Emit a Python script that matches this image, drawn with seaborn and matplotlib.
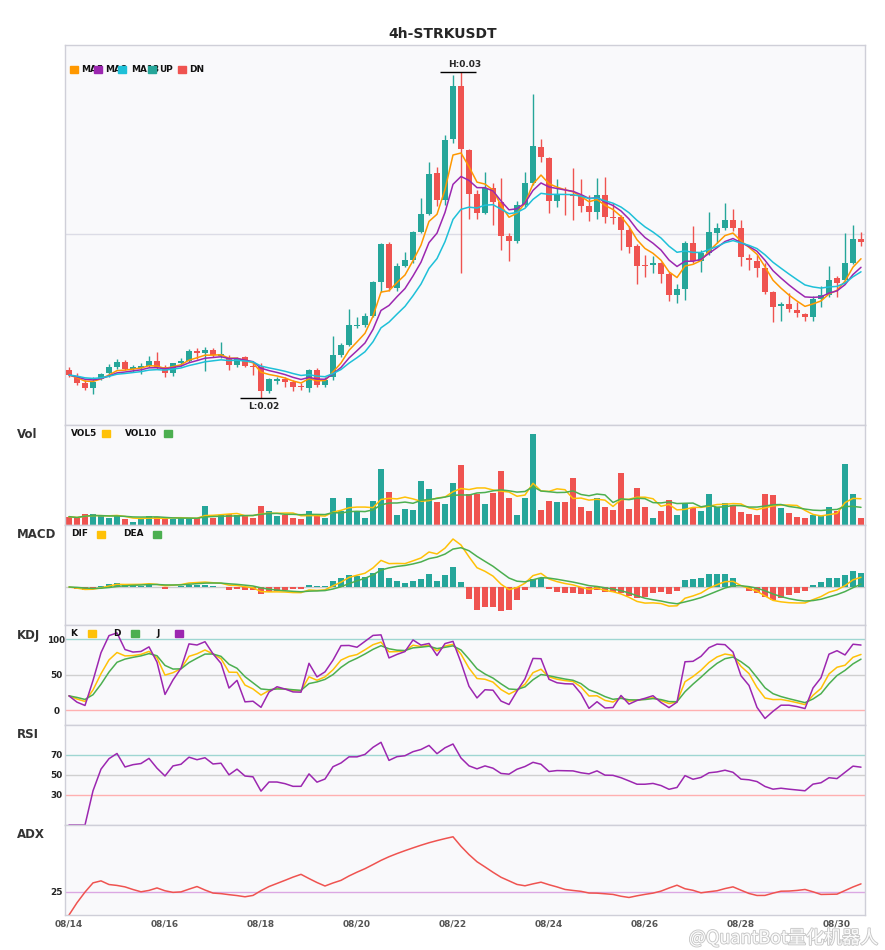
import numpy as np
import pandas as pd
import matplotlib
matplotlib.use("Agg")
import matplotlib.pyplot as plt
import matplotlib.patheffects as pe
from matplotlib.patches import Rectangle
import seaborn as sns

# --- DATA (4h candles, STRKUSDT) ---
SYMBOL = "STRKUSDT"
INTERVAL = "4h"
START = "2024-08-14 00:00"

open_ = [0.02092, 0.02074, 0.02053, 0.02038, 0.02065, 0.02083, 0.02101, 0.02116, 0.02095, 0.02098,
         0.02104, 0.02119, 0.02101, 0.02083, 0.02113, 0.02119, 0.02149, 0.02143, 0.02152, 0.02134,
         0.02128, 0.02107, 0.02131, 0.02104, 0.02101, 0.02029, 0.02059, 0.02065, 0.02056, 0.02044,
         0.02038, 0.02092, 0.02047, 0.02071, 0.02137, 0.02167, 0.02224, 0.02227, 0.02254, 0.02356,
         0.02470, 0.02338, 0.02404, 0.02422, 0.02506, 0.02560, 0.02683, 0.02602, 0.02785, 0.02944,
         0.02752, 0.02620, 0.02563, 0.02638, 0.02596, 0.02494, 0.02479, 0.02587, 0.02653, 0.02761,
         0.02728, 0.02599, 0.02620, 0.02617, 0.02617, 0.02584, 0.02566, 0.02617, 0.02551, 0.02551,
         0.02512, 0.02464, 0.02407, 0.02407, 0.02413, 0.02380, 0.02317, 0.02335, 0.02473, 0.02419,
         0.02443, 0.02503, 0.02518, 0.02542, 0.02518, 0.02428, 0.02419, 0.02398, 0.02326, 0.02284,
         0.02290, 0.02272, 0.02260, 0.02251, 0.02305, 0.02317, 0.02368, 0.02362, 0.02413, 0.02485]
high = [0.02101, 0.02083, 0.02062, 0.02071, 0.02083, 0.02110, 0.02125, 0.02122, 0.02107, 0.02113,
        0.02134, 0.02146, 0.02107, 0.02113, 0.02128, 0.02155, 0.02158, 0.02161, 0.02158, 0.02176,
        0.02137, 0.02131, 0.02134, 0.02113, 0.02113, 0.02068, 0.02071, 0.02071, 0.02062, 0.02053,
        0.02095, 0.02098, 0.02071, 0.02194, 0.02173, 0.02275, 0.02251, 0.02263, 0.02359, 0.02473,
        0.02476, 0.02413, 0.02446, 0.02509, 0.02608, 0.02716, 0.02701, 0.02797, 0.02977, 0.02986,
        0.02755, 0.02632, 0.02686, 0.02653, 0.02668, 0.02503, 0.02599, 0.02686, 0.02920, 0.02785,
        0.02731, 0.02665, 0.02641, 0.02698, 0.02665, 0.02617, 0.02668, 0.02671, 0.02593, 0.02557,
        0.02524, 0.02470, 0.02437, 0.02434, 0.02416, 0.02386, 0.02350, 0.02479, 0.02524, 0.02452,
        0.02566, 0.02533, 0.02593, 0.02575, 0.02542, 0.02440, 0.02437, 0.02413, 0.02329, 0.02296,
        0.02323, 0.02296, 0.02263, 0.02314, 0.02344, 0.02404, 0.02374, 0.02503, 0.02527, 0.02506]
low = [0.02071, 0.02047, 0.02032, 0.02020, 0.02062, 0.02071, 0.02095, 0.02092, 0.02086, 0.02080,
       0.02101, 0.02095, 0.02071, 0.02074, 0.02104, 0.02116, 0.02125, 0.02089, 0.02131, 0.02128,
       0.02092, 0.02101, 0.02101, 0.02077, 0.02008, 0.02023, 0.02050, 0.02041, 0.02029, 0.02032,
       0.02026, 0.02041, 0.02041, 0.02062, 0.02131, 0.02164, 0.02218, 0.02221, 0.02251, 0.02326,
       0.02329, 0.02329, 0.02401, 0.02413, 0.02503, 0.02557, 0.02584, 0.02587, 0.02773, 0.02383,
       0.02545, 0.02545, 0.02560, 0.02527, 0.02452, 0.02419, 0.02473, 0.02581, 0.02647, 0.02716,
       0.02563, 0.02581, 0.02557, 0.02542, 0.02566, 0.02539, 0.02545, 0.02533, 0.02530, 0.02452,
       0.02443, 0.02350, 0.02371, 0.02383, 0.02353, 0.02299, 0.02293, 0.02302, 0.02413, 0.02386,
       0.02437, 0.02473, 0.02512, 0.02509, 0.02404, 0.02392, 0.02371, 0.02320, 0.02236, 0.02239,
       0.02266, 0.02251, 0.02239, 0.02239, 0.02281, 0.02311, 0.02311, 0.02359, 0.02409, 0.02463]
close = [0.02077, 0.02053, 0.02038, 0.02056, 0.02080, 0.02101, 0.02116, 0.02095, 0.02101, 0.02104,
         0.02119, 0.02101, 0.02083, 0.02113, 0.02119, 0.02149, 0.02143, 0.02152, 0.02137, 0.02140,
         0.02107, 0.02128, 0.02104, 0.02101, 0.02029, 0.02065, 0.02065, 0.02056, 0.02041, 0.02041,
         0.02092, 0.02047, 0.02062, 0.02137, 0.02167, 0.02227, 0.02227, 0.02254, 0.02356, 0.02470,
         0.02338, 0.02404, 0.02422, 0.02506, 0.02560, 0.02680, 0.02602, 0.02782, 0.02944, 0.02755,
         0.02620, 0.02563, 0.02638, 0.02596, 0.02494, 0.02479, 0.02587, 0.02653, 0.02764, 0.02731,
         0.02599, 0.02620, 0.02617, 0.02614, 0.02584, 0.02566, 0.02617, 0.02551, 0.02548, 0.02512,
         0.02461, 0.02404, 0.02404, 0.02413, 0.02380, 0.02317, 0.02335, 0.02473, 0.02419, 0.02443,
         0.02506, 0.02518, 0.02542, 0.02518, 0.02431, 0.02422, 0.02398, 0.02326, 0.02281, 0.02290,
         0.02275, 0.02263, 0.02251, 0.02305, 0.02317, 0.02362, 0.02353, 0.02413, 0.02485, 0.02476]
volume = [8.3, 6.7, 11.3, 11.3, 9.0, 7.3, 8.7, 6.3, 3.3, 6.7,
          9.3, 8.0, 6.0, 6.0, 7.0, 7.3, 7.3, 19.3, 7.3, 10.0,
          10.7, 10.0, 8.7, 7.3, 19.3, 13.7, 9.3, 10.0, 7.3, 5.7,
          14.3, 9.7, 7.3, 27.3, 14.3, 27.3, 13.0, 7.3, 24.3, 55.3,
          32.7, 10.3, 16.3, 15.3, 43.3, 36.3, 23.0, 21.3, 41.7, 59.3,
          31.0, 31.0, 21.3, 31.7, 53.3, 26.7, 10.0, 27.3, 90.3, 15.3,
          24.3, 22.7, 23.0, 46.3, 17.7, 14.0, 27.3, 18.3, 15.0, 51.7,
          16.0, 37.3, 18.3, 7.3, 14.3, 25.3, 10.0, 21.0, 17.0, 14.3,
          31.3, 18.3, 22.3, 20.3, 12.7, 11.3, 10.0, 31.3, 29.7, 16.7,
          11.7, 7.7, 7.0, 9.7, 9.0, 18.3, 13.7, 60.7, 30.7, 7.3]

# --- STYLE ---
UP_C = "#26a69a"
DN_C = "#ef5350"
BG = "#f9f9fb"
SPINE = "#cfcfd8"
W, H = 885, 950

sns.set_style("white")
plt.rcParams["font.family"] = ["DejaVu Sans"]

df = pd.DataFrame({"open": open_, "high": high, "low": low, "close": close, "vol": volume})
df["time"] = pd.date_range(START, periods=len(df), freq="4h")
x = np.arange(len(df))


def ema(s, n):
    return s.ewm(span=n, adjust=False).mean()


def wilder(s, n):
    return s.ewm(alpha=1 / n, adjust=False).mean()


# --- INDICATORS ---
ma5 = ema(df["close"], 5)
ma8 = ema(df["close"], 8)
ma13 = ema(df["close"], 13)
vol5 = df["vol"].rolling(5, min_periods=1).mean()
vol10 = df["vol"].rolling(10, min_periods=1).mean()

dif = ema(df["close"], 5) - ema(df["close"], 13)
dea = ema(dif, 5)
hist = 2 * (dif - dea)

llv = df["low"].rolling(9, min_periods=1).min()
hhv = df["high"].rolling(9, min_periods=1).max()
rsv = (df["close"] - llv) / (hhv - llv) * 100
k = ema(rsv, 3)
d = ema(k, 3)
j = 3 * k - 2 * d

delta = df["close"].diff().fillna(0)
avg_g = wilder(delta.clip(lower=0), 14)
avg_l = wilder(-delta.clip(upper=0), 14)
rsi = (100 * avg_g / (avg_g + avg_l)).fillna(0)

prev_c = df["close"].shift()
tr = pd.concat([df["high"] - df["low"], (df["high"] - prev_c).abs(), (df["low"] - prev_c).abs()], axis=1).max(axis=1)
up_move = df["high"].diff()
dn_move = -df["low"].diff()
pdm = pd.Series(np.where((up_move > dn_move) & (up_move > 0), up_move, 0.0))
mdm = pd.Series(np.where((dn_move > up_move) & (dn_move > 0), dn_move, 0.0))
atr = ema(tr, 14)
pdi = 100 * ema(pdm, 14) / atr
mdi = 100 * ema(mdm, 14) / atr
dx = (100 * (pdi - mdi).abs() / (pdi + mdi)).fillna(0)
adx = ema(dx, 14)

# --- FIGURE ---
fig = plt.figure(figsize=(W / 100, H / 100), dpi=100)
gs = fig.add_gridspec(6, 1, height_ratios=[380, 100, 100, 100, 100, 90],
                      left=65 / W, right=865 / W, top=1 - 45 / H, bottom=1 - 915 / H, hspace=0)
axes = [fig.add_subplot(gs[0])]
for r in range(1, 6):
    axes.append(fig.add_subplot(gs[r], sharex=axes[0]))
ax_k, ax_v, ax_m, ax_kdj, ax_rsi, ax_adx = axes

for ax in axes:
    ax.set_facecolor(BG)
    for s in ax.spines.values():
        s.set_color(SPINE)
        s.set_linewidth(1)
    ax.tick_params(axis="both", length=0)
    ax.tick_params(axis="x", labelbottom=False)
ax_k.set_xlim(-0.5, len(df) - 0.5)

colors = np.where(df["close"] >= df["open"], UP_C, DN_C)

# candles
ax_k.axhline(0.025, color="#dcdce6", lw=1, zorder=0)
ax_k.vlines(x, df["low"], df["high"], color=colors, lw=1, zorder=2)
body_lo = np.minimum(df["open"], df["close"])
body_h = np.maximum((df["close"] - df["open"]).abs(), 0.00003)
ax_k.bar(x, body_h, bottom=body_lo, width=0.7, color=colors, linewidth=0, zorder=3)
sns.lineplot(x=x, y=ma5, ax=ax_k, color="#ff9800", lw=1.1, zorder=4)
sns.lineplot(x=x, y=ma8, ax=ax_k, color="#9c27b0", lw=1.1, zorder=4)
sns.lineplot(x=x, y=ma13, ax=ax_k, color="#1ec0d8", lw=1.1, zorder=4)
ax_k.set_ylim(0.01927, 0.03067)
ax_k.set_yticks([])

hi_i = int(df["high"].idxmax())
lo_i = int(df["low"].idxmin())
hi_v = df["high"].max()
lo_v = df["low"].min()
ax_k.hlines(hi_v, hi_i - 2.6, hi_i + 1.9, color="black", lw=1, zorder=5)
ax_k.annotate(f"H:{hi_v:.2f}", (hi_i + 0.4, hi_v), xytext=(0, 2.5), textcoords="offset points",
              ha="center", va="bottom", fontsize=6.5, fontweight="bold", zorder=6)
ax_k.hlines(lo_v, lo_i - 2.6, lo_i + 1.9, color="black", lw=1, zorder=5)
ax_k.annotate(f"L:{lo_v:.2f}", (lo_i + 0.4, lo_v), xytext=(0, -3), textcoords="offset points",
              ha="center", va="top", fontsize=6.5, fontweight="bold", zorder=6)

# volume
ax_v.bar(x, df["vol"], width=0.7, color=colors, linewidth=0)
sns.lineplot(x=x, y=vol5, ax=ax_v, color="#ffc107", lw=1.1)
sns.lineplot(x=x, y=vol10, ax=ax_v, color="#4caf50", lw=1.1)
ax_v.set_ylim(0, 99.5)
ax_v.set_yticks([])

# macd
ax_m.axhline(0, color="#cccccc", lw=1, zorder=0)
ax_m.bar(x, hist, width=0.7, color=np.where(hist >= 0, UP_C, DN_C), linewidth=0)
sns.lineplot(x=x, y=dif, ax=ax_m, color="#ffc107", lw=1.1)
sns.lineplot(x=x, y=dea, ax=ax_m, color="#4caf50", lw=1.1)
top_m = dif.max() * 62 / 48
ax_m.set_ylim(-top_m * 38 / 62, top_m)
ax_m.set_yticks([])

# kdj
ax_kdj.axhline(100, color="#9fd6d2", lw=1, zorder=0)
ax_kdj.axhline(50, color="#d0d0d0", lw=1, zorder=0)
ax_kdj.axhline(0, color="#ffb0b0", lw=1, zorder=0)
sns.lineplot(x=x, y=k, ax=ax_kdj, color="#ffc107", lw=1.1)
sns.lineplot(x=x, y=d, ax=ax_kdj, color="#4caf50", lw=1.1)
sns.lineplot(x=x, y=j, ax=ax_kdj, color="#9c27b0", lw=1.1)
ax_kdj.set_ylim(-21, 119.7)
ax_kdj.set_yticks([0, 50, 100])

# rsi
ax_rsi.axhline(70, color="#9fd6d2", lw=1, zorder=0)
ax_rsi.axhline(50, color="#d0d0d0", lw=1, zorder=0)
ax_rsi.axhline(30, color="#ffb0b0", lw=1, zorder=0)
sns.lineplot(x=x, y=rsi, ax=ax_rsi, color="#9c27b0", lw=1.1)
ax_rsi.set_ylim(0, 100)
ax_rsi.set_yticks([30, 50, 70])

# adx
ax_adx.axhline(25, color="#dba8e3", lw=1, zorder=0)
sns.lineplot(x=x, y=adx, ax=ax_adx, color="#ef5350", lw=1.1)
ax_adx.set_ylim(0, 97.8)
ax_adx.set_yticks([25])

for ax in (ax_kdj, ax_rsi, ax_adx):
    ax.tick_params(axis="y", pad=6.2, labelsize=6.4)
    for lab in ax.get_yticklabels():
        lab.set_ha("center")
        lab.set_fontweight("bold")
        lab.set_color("#222222")

for ax in axes:
    ax.set_ylabel("")
    ax.set_xlabel("")

ax_adx.set_xticks(x[::12])
ax_adx.set_xticklabels(df["time"].dt.strftime("%m/%d").iloc[::12], fontsize=6.5,
                       fontweight="bold", color="#555555")
ax_adx.tick_params(axis="x", labelbottom=True, pad=3)


# --- LEGENDS AND LABELS (figure pixel positions) ---
def ftext(px, py, s, **kw):
    fig.text(px / W, 1 - py / H, s, va="center", zorder=10, **kw)


def fsquare(px, py, color):
    fig.patches.append(Rectangle((px / W, 1 - (py + 3.5) / H), 7.5 / W, 7 / H,
                                 transform=fig.transFigure, color=color, zorder=11))


fig.text(0.5, 1 - 34 / H, f"{INTERVAL}-{SYMBOL}", ha="center", va="center",
         fontsize=10, fontweight="bold")

leg = dict(fontsize=6.4, fontweight="bold", color="#111111")
for tx, sx, lab, col in [(81, 70, "MA5", "#ff9800"), (105, 94, "MA8", "#9c27b0"),
                         (131, 118, "MA13", "#1ec0d8"), (159, 148, "UP", UP_C),
                         (189, 178, "DN", DN_C)]:
    fsquare(sx, 69, col)
    ftext(tx, 69, lab, **leg)

for tx, sx, lab, col in [(71, 102, "VOL5", "#ffc107"), (125, 164, "VOL10", "#4caf50")]:
    ftext(tx, 433.5, lab, **leg)
    fsquare(sx, 433.5, col)

for tx, sx, lab, col in [(71, 97, "DIF", "#ffc107"), (123, 153, "DEA", "#4caf50")]:
    ftext(tx, 534, lab, **leg)
    fsquare(sx, 534, col)

for tx, sx, lab, col in [(70, 88, "K", "#ffc107"), (113, 131, "D", "#4caf50"),
                         (156, 175, "J", "#9c27b0")]:
    ftext(tx, 633.5, lab, **leg)
    fsquare(sx, 633.5, col)

for py, lab in [(435, "Vol"), (534.5, "MACD"), (635, "KDJ"), (734.5, "RSI"), (834.5, "ADX")]:
    ftext(17, py, lab, fontsize=8.5, fontweight="bold", color="#333333")

# site watermark, kept below the date labels
wm = fig.text(878 / W, 1 - 938 / H, "@QuantBot量化机器人", ha="right", va="center",
              fontsize=13, color="white", alpha=0.95, zorder=12,
              family=["Noto Sans CJK SC", "DejaVu Sans"])
wm.set_path_effects([pe.withStroke(linewidth=1.3, foreground="#c4c4c4")])

fig.savefig("out.png", dpi=100, facecolor="white")
